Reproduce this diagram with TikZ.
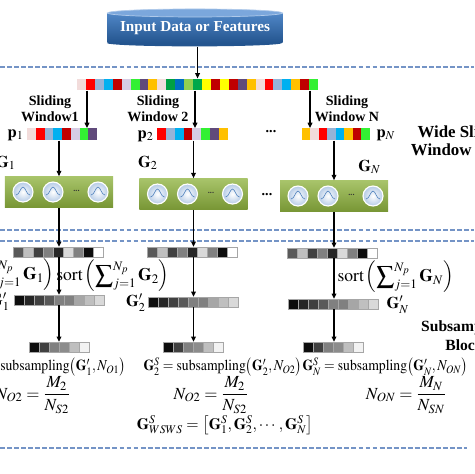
\documentclass[tikz,border=0pt]{standalone}
\usepackage{amsmath}
\usepackage{mathptmx}
\usepackage[no-math]{fontspec}
\setmainfont{Liberation Serif}
\usepackage{graphicx}
\usepackage{xcolor}
\usetikzlibrary{arrows.meta,calc,positioning}

\definecolor{cpink}{HTML}{F2DCDB}
\definecolor{cred}{HTML}{FF0000}
\definecolor{clblue}{HTML}{95B3D7}
\definecolor{ccyan}{HTML}{00B0F0}
\definecolor{cdred}{HTML}{C00000}
\definecolor{clav}{HTML}{D5CCE4}
\definecolor{cbgreen}{HTML}{33F033}
\definecolor{cpurple}{HTML}{604A7B}
\definecolor{corange}{HTML}{FFC000}
\definecolor{cdgreen}{HTML}{00A040}
\definecolor{cblue}{HTML}{0070C0}
\definecolor{clgreen}{HTML}{92D050}
\definecolor{cgreen}{HTML}{00A84A}
\definecolor{cyellow}{HTML}{FFFF00}
\definecolor{cyltop}{HTML}{4F86C6}
\definecolor{cylbot}{HTML}{24558F}
\definecolor{cylcap}{HTML}{7BA7DC}
\definecolor{boxtop}{HTML}{A8C46A}
\definecolor{boxbot}{HTML}{789635}
\definecolor{circfill}{HTML}{B5CBE6}
\definecolor{bellblue}{HTML}{4F81BD}
\definecolor{sepblue}{HTML}{7494C6}

\newcommand{\subsq}[1]{\scalebox{0.9}[1]{#1}}

\tikzset{gaussunit/.pic={
    \shade[inner color=white,outer color=circfill] (0,0) circle[radius=0.3cm];
    \draw[white,line width=1pt] (0,0) circle[radius=0.3cm];
    \draw[bellblue,line width=0.5pt] (-7,-3) .. controls (-3.5,-3) and (-2.5,5) .. (0,5)
      .. controls (2.5,5) and (3.5,-3) .. (7,-3);
  }}

\begin{document}
\begin{tikzpicture}[x=0.03cm,y=0.03cm,line width=0.9pt,
    arr/.style={-{Triangle[length=4.5pt,width=4pt]}},
    sepline/.style={draw=sepblue,line width=1pt,dash pattern=on 4.2pt off 1.8pt},
    inbox/.style={inner sep=0pt,minimum width=5.25cm,minimum height=0.87cm,
      top color=cyltop,bottom color=cylbot,text=white,font=\fontsize{13}{15}\selectfont\bfseries},
    scell/.style={inner sep=0pt,minimum width=0.268cm,minimum height=0.33cm},
    pcell/.style={inner sep=0pt,minimum width=0.2625cm,minimum height=0.36cm},
    gcell/.style={inner sep=0pt,minimum size=0.3cm,draw=black!35,line width=0.3pt},
    gbox/.style={inner sep=0pt,minimum width=3.24cm,minimum height=0.92cm,
      top color=boxtop,bottom color=boxbot},
    wlbl/.style={font=\fontsize{12}{13.6}\selectfont\bfseries,align=center},
    blbl/.style={font=\fontsize{14.4}{15}\selectfont\bfseries,align=center},
    vlbl/.style={font=\fontsize{14}{16}\selectfont,inner sep=0pt},
    eq/.style={font=\fontsize{13}{15}\selectfont,inner sep=0pt},
    sorteq/.style={font=\fontsize{15}{17}\selectfont,inner sep=0pt},
  ]
  \useasboundingbox (0,0) rectangle (474,-474);
  \clip (0,0) rectangle (474,-474);

  % input block
  \node[inbox] (input) at (195,-28) {Input Data or Features};
  \fill[cylbot] (input.south west) arc[start angle=180,end angle=360,x radius=2.625cm,y radius=0.1cm];
  \fill[cylcap] (input.north) ellipse[x radius=2.625cm,y radius=0.12cm];
  \draw[cylcap!60!white,line width=0.6pt] (input.north) ellipse[x radius=2.625cm,y radius=0.12cm];
  \coordinate (inb) at ($(input.south)+(0,-3.5)$);

  \draw[sepline] (0,-67) -- (474,-67);

  % full feature strip
  \foreach \c [count=\i] in {cpink,cred,clblue,ccyan,cdred,clav,cbgreen,cpurple,corange,
      cpink,cdgreen,cblue,clgreen,cgreen,cyellow,cdred,cyellow,cdred,cpurple,corange,
      cpink,cred,clblue,ccyan,corange,cdred,cbgreen}
    \node[scell,fill=\c] (s\i) at ({77+(\i-0.5)*8.93},-84.5) {};
  \draw[arr] (inb -| s14) -- (s14.north);

  % sliding windows
  \node[wlbl] (win1) at (50,-109) {Sliding\\Window1};
  \node[wlbl] (win2) at (158,-109) {Sliding\\Window 2};
  \node[wlbl] (winN) at (347,-109) {Sliding\\Window N};
  \coordinate (w1) at (87,-128);
  \coordinate (w2) at (195,-128);
  \coordinate (wN) at (310,-128);
  \draw[arr] (s2.south -| w1) -- (w1);
  \draw[arr] (s14.south -| w2) -- (w2);
  \draw[arr] (s27.south -| wN) -- (wN);

  \foreach \c [count=\i] in {cpink,cred,clblue,ccyan,cdred,clav,cbgreen,cpurple}
    \node[pcell,fill=\c] (pa-\i) at ({27+(\i-0.5)*8.75},-134) {};
  \foreach \c [count=\i] in {cred,clblue,ccyan,cdred,clav,cbgreen,cpurple,corange}
    \node[pcell,fill=\c] (pb-\i) at ({157+(\i-0.5)*8.85},-134) {};
  \foreach \c [count=\i] in {corange,cpink,cred,clblue,ccyan,corange,cdred,cbgreen}
    \node[pcell,fill=\c] (pn-\i) at ({302+(\i-0.5)*8.5},-134) {};
  \node[vlbl,anchor=east] (plab1) at (24,-135) {$\mathbf{p}_1$};
  \node[vlbl,anchor=east] (plab2) at (154,-136) {$\mathbf{p}_2$};
  \node[vlbl,anchor=west] (plabN) at (376,-135) {$\mathbf{p}_N$};
  \node[font=\fontsize{12}{14}\selectfont\bfseries] (pdots) at (271,-132) {...};

  \node[blbl] (wsw) at (464,-140.5) {Wide Sliding\\Window Block};

  % gaussian units
  \node[gbox] (gbox1) at (59,-192) {};
  \node[gbox] (gbox2) at (193.5,-194) {};
  \node[gbox] (gbox3) at (334,-196) {};
  \foreach \k in {1,2,3} {
    \foreach \dx in {-36,-6,39}
      \pic at ($(gbox\k)+(\dx,0)$) {gaussunit};
    \node[font=\scriptsize\bfseries,text=black!80] at ($(gbox\k)+(17.5,1)$) {...};
  }
  \node[font=\fontsize{12}{14}\selectfont\bfseries] (gdots) at (267,-195) {...};
  \draw[arr] (pa-4.south -| gbox1.north) -- (gbox1.north);
  \draw[arr] (pb-5.south -| gbox2.north) -- (gbox2.north);
  \draw[arr] (pn-4.south -| gbox3.north) -- (gbox3.north);
  \node[vlbl,anchor=east] (glab1) at (16,-163) {$\mathbf{G}_1$};
  \node[vlbl,anchor=east] (glab2) at (158,-163) {$\mathbf{G}_2$};
  \node[vlbl,anchor=east] (glabN) at (381,-167) {$\mathbf{G}_N$};

  \draw[sepline] (0,-230) -- (474,-230);
  \draw[sepline] (0,-241) -- (474,-241);

  % sorting and subsampling
  \foreach \k/\gx/\ya/\yb in {1/13/252/300,2/147/252/302,3/287/253/304} {
    \foreach \s [count=\i] in {65,25,75,50,85,15,50,95,0}
      \node[gcell,fill=black!\s] (ra\k-\i) at ({\gx+(\i-0.5)*10},-\ya) {};
    \foreach \s [count=\i] in {95,85,75,65,50,50,35,25,15}
      \node[gcell,fill=black!\s] (rb\k-\i) at ({\gx+1+(\i-0.5)*10},-\yb) {};
    \foreach \s [count=\i] in {95,75,50,45,25,5}
      \node[gcell,fill=black!\s] (rc\k-\i) at ({\gx+16+(\i-0.5)*10},-347) {};
    \draw[arr] (gbox\k.south) -- (gbox\k.south |- ra\k-5.north);
    \draw[arr] (ra\k-5.south -| gbox\k) -- (rb\k-5.north -| gbox\k);
    \draw[arr] (rb\k-5.south -| gbox\k) -- (rc\k-3.north -| gbox\k);
  }
  \node[sorteq,anchor=east] (sort1) at (55,-275)
    {$\mathrm{sort}\left(\displaystyle\sum\nolimits_{j=1}^{N_p}\mathbf{G}_1\right)$};
  \node[sorteq,anchor=east] (sort2) at (170,-276)
    {$\mathrm{sort}\left(\displaystyle\sum\nolimits_{j=1}^{N_p}\mathbf{G}_2\right)$};
  \node[sorteq,anchor=west] (sortN) at (337,-277)
    {$\mathrm{sort}\left(\displaystyle\sum\nolimits_{j=1}^{N_p}\mathbf{G}_N\right)$};
  \node[vlbl,anchor=east] (gp1) at (10,-302) {$\mathbf{G}'_1$};
  \node[vlbl,anchor=east] (gp2) at (146,-303) {$\mathbf{G}'_2$};
  \node[vlbl,anchor=west] (gpN) at (386,-305) {$\mathbf{G}'_N$};

  \node[blbl,font=\fontsize{13.3}{16}\selectfont\bfseries] (subs) at (464.5,-336) {Subsampling\\Block};

  % equations
  \node[eq,anchor=east] (eq1a) at (126,-367)
    {\subsq{$\mathbf{G}^S_1=\mathrm{subsampling}\bigl(\mathbf{G}'_1,N_{O1}\bigr)$}};
  \node[eq,anchor=west] (eq1b) at (143,-367)
    {\subsq{$\mathbf{G}^S_2=\mathrm{subsampling}\bigl(\mathbf{G}'_2,N_{O2}\bigr)$}};
  \node[eq,anchor=west] (eq1c) at (302,-367)
    {\subsq{$\mathbf{G}^S_N=\mathrm{subsampling}\bigl(\mathbf{G}'_N,N_{ON}\bigr)$}};
  \node[eq,font=\fontsize{14.5}{16}\selectfont] (eq2a) at (33,-395) {$N_{O2}=\dfrac{M_2}{N_{S2}}$};
  \node[eq,font=\fontsize{14.5}{16}\selectfont] (eq2b) at (211,-395) {$N_{O2}=\dfrac{M_2}{N_{S2}}$};
  \node[eq,font=\fontsize{14.5}{16}\selectfont] (eq2c) at (406,-395) {$N_{ON}=\dfrac{M_N}{N_{SN}}$};
  \node[eq,font=\fontsize{13.5}{15}\selectfont] (eq3) at (225,-425)
    {$\mathbf{G}^S_{WSWS}=\left[\mathbf{G}^S_1,\mathbf{G}^S_2,\cdots,\mathbf{G}^S_N\right]$};

  \draw[sepline] (0,-448) -- (467,-448);
\end{tikzpicture}
\end{document}
